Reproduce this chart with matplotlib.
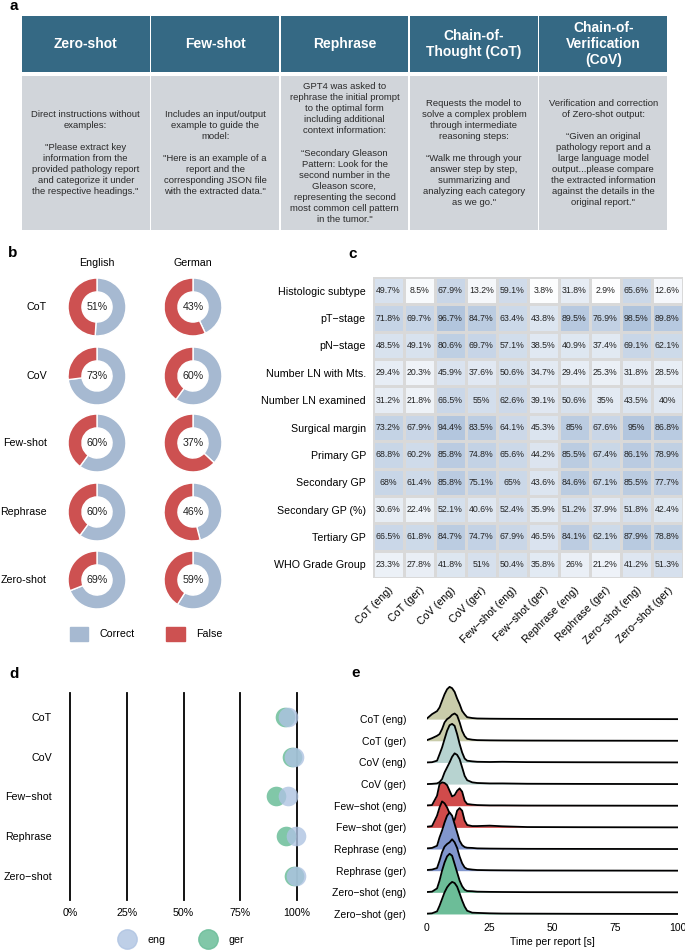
import matplotlib
matplotlib.use("Agg")
import matplotlib.pyplot as plt
import numpy as np
from matplotlib.patches import Rectangle, Patch
from matplotlib.lines import Line2D
from matplotlib.colors import LinearSegmentedColormap

plt.rcParams['font.family'] = ['Liberation Sans', 'DejaVu Sans']

# ---------------- data ----------------
# panel a
prompt_names = ['Zero-shot', 'Few-shot', 'Rephrase', 'Chain-of-\nThought (CoT)',
                'Chain-of-\nVerification\n(CoV)']
prompt_texts = [
    'Direct instructions without\nexamples:\n\n"Please extract key\ninformation from the\n'
    'provided pathology report\nand categorize it under\nthe respective headings."',
    'Includes an input/output\nexample to guide the\nmodel:\n\n"Here is an example of a\n'
    'report and the\ncorresponding JSON file\nwith the extracted data."',
    'GPT4 was asked to\nrephrase the initial prompt\nto the optimal form\nincluding additional\n'
    'context information:\n\n\u201cSecondary Gleason\nPattern: Look for the\nsecond number in the\n'
    'Gleason score,\nrepresenting the second\nmost common cell pattern\nin the tumor."',
    'Requests the model to\nsolve a complex problem\nthrough intermediate\nreasoning steps:\n\n'
    '\u201cWalk me through your\nanswer step by step,\nsummarizing and\nanalyzing each category\nas we go."',
    'Verification and correction\nof Zero-shot output:\n\n\u201cGiven an original\n'
    'pathology report and a\nlarge language model\noutput...please compare\n'
    'the extracted information\nagainst the details in the\noriginal report."',
]

# panel b
strategies = ['CoT', 'CoV', 'Few-shot', 'Rephrase', 'Zero-shot']
correct_eng = [51, 73, 60, 60, 69]
correct_ger = [43, 60, 37, 46, 59]

# panel c
hm_rows = ['Histologic subtype', 'pT\u2212stage', 'pN\u2212stage', 'Number LN with Mts.',
           'Number LN examined', 'Surgical margin', 'Primary GP', 'Secondary GP',
           'Secondary GP (%)', 'Tertiary GP', 'WHO Grade Group']
hm_cols = ['CoT (eng)', 'CoT (ger)', 'CoV (eng)', 'CoV (ger)', 'Few\u2212shot (eng)',
           'Few\u2212shot (ger)', 'Rephrase (eng)', 'Rephrase (ger)', 'Zero\u2212shot (eng)',
           'Zero\u2212shot (ger)']
hm_vals = [
    [49.7, 8.5, 67.9, 13.2, 59.1, 3.8, 31.8, 2.9, 65.6, 12.6],
    [71.8, 69.7, 96.7, 84.7, 63.4, 43.8, 89.5, 76.9, 98.5, 89.8],
    [48.5, 49.1, 80.6, 69.7, 57.1, 38.5, 40.9, 37.4, 69.1, 62.1],
    [29.4, 20.3, 45.9, 37.6, 50.6, 34.7, 29.4, 25.3, 31.8, 28.5],
    [31.2, 21.8, 66.5, 55, 62.6, 39.1, 50.6, 35, 43.5, 40],
    [73.2, 67.9, 94.4, 83.5, 64.1, 45.3, 85, 67.6, 95, 86.8],
    [68.8, 60.2, 85.8, 74.8, 65.6, 44.2, 85.5, 67.4, 86.1, 78.9],
    [68, 61.4, 85.8, 75.1, 65, 43.6, 84.6, 67.1, 85.5, 77.7],
    [30.6, 22.4, 52.1, 40.6, 52.4, 35.9, 51.2, 37.9, 51.8, 42.4],
    [66.5, 61.8, 84.7, 74.7, 67.9, 46.5, 84.1, 62.1, 87.9, 78.8],
    [23.3, 27.8, 41.8, 51, 50.4, 35.8, 26, 21.2, 41.2, 51.3],
]

# panel d
d_labels = ['CoT', 'CoV', 'Few\u2212shot', 'Rephrase', 'Zero\u2212shot']
d_eng = [96.2, 98.5, 96.2, 99.7, 99.7]
d_ger = [94.6, 97.7, 90.9, 95.3, 98.8]

e_labels = ['CoT (eng)', 'CoT (ger)', 'CoV (eng)', 'CoV (ger)', 'Few\u2212shot (eng)',
            'Few\u2212shot (ger)', 'Rephrase (eng)', 'Rephrase (ger)', 'Zero\u2212shot (eng)',
            'Zero\u2212shot (ger)']
t_grid = [0, 2, 4, 5, 6, 7, 8, 9, 10, 11, 12, 13, 14, 15, 16, 18, 20, 25, 30, 40, 60, 100]
dens_cot_eng = [0.03, 0.23, 0.37, 0.54, 0.85, 1.15, 1.38, 1.49, 1.43, 1.26, 0.95, 0.69, 0.38, 0.22, 0.09, 0.05, 0.03, 0.02, 0.015, 0.01, 0.005, 0]
dens_cot_ger = [0.03, 0.12, 0.23, 0.31, 0.54, 0.85, 1.0, 1.08, 1.2, 1.26, 1.17, 0.85, 0.46, 0.22, 0.09, 0.05, 0.03, 0.02, 0.015, 0.01, 0.005, 0]
dens_cov_eng = [0, 0.01, 0.08, 0.38, 0.69, 1.08, 1.46, 1.72, 1.78, 1.69, 1.31, 0.85, 0.46, 0.18, 0.08, 0.05, 0.03, 0.02, 0.03, 0.015, 0.008, 0]
dens_cov_ger = [0, 0.01, 0.03, 0.09, 0.23, 0.54, 0.77, 1.0, 1.26, 1.42, 1.35, 1.15, 0.77, 0.38, 0.18, 0.08, 0.05, 0.03, 0.03, 0.015, 0.008, 0]
dens_few_eng = [0.015, 0.03, 0.46, 1.0, 1.08, 1.05, 0.95, 0.69, 0.43, 0.49, 0.69, 0.8, 0.65, 0.23, 0.08, 0.05, 0.03, 0.015, 0.015, 0.008, 0.005, 0]
dens_few_ger = [0.03, 0.06, 0.54, 0.92, 1.2, 1.11, 0.92, 0.65, 0.38, 0.34, 0.77, 0.89, 0.77, 0.31, 0.11, 0.06, 0.06, 0.08, 0.05, 0.015, 0.008, 0]
dens_reph_eng = [0.03, 0.05, 0.15, 0.54, 0.85, 1.23, 1.54, 1.69, 1.54, 1.15, 0.77, 0.38, 0.18, 0.09, 0.06, 0.05, 0.03, 0.02, 0.015, 0.008, 0.005, 0]
dens_reph_ger = [0.03, 0.05, 0.12, 0.46, 0.85, 1.11, 1.23, 1.31, 1.45, 1.31, 1.05, 0.65, 0.34, 0.15, 0.08, 0.05, 0.03, 0.02, 0.015, 0.008, 0.005, 0]
dens_zero_eng = [0.015, 0.03, 0.18, 0.54, 1.0, 1.38, 1.66, 1.78, 1.69, 1.31, 0.92, 0.54, 0.28, 0.12, 0.06, 0.05, 0.03, 0.02, 0.015, 0.008, 0.005, 0]
dens_zero_ger = [0.015, 0.03, 0.12, 0.38, 0.69, 1.0, 1.23, 1.38, 1.48, 1.43, 1.26, 0.95, 0.62, 0.34, 0.15, 0.06, 0.05, 0.03, 0.02, 0.015, 0.008, 0]
e_dens = [dens_cot_eng, dens_cot_ger, dens_cov_eng, dens_cov_ger, dens_few_eng,
          dens_few_ger, dens_reph_eng, dens_reph_ger, dens_zero_eng, dens_zero_ger]

# ---------------- figure ----------------
W, H = 685, 952
fig = plt.figure(figsize=(W / 100, H / 100), dpi=100)


def box(x0, y0, x1, y1):
    # axes from pixel box (top-left origin)
    return fig.add_axes([x0 / W, 1 - y1 / H, (x1 - x0) / W, (y1 - y0) / H])


def ftext(x, y, s, **kw):
    return fig.text(x / W, 1 - y / H, s, **kw)


for lab, (x, y) in zip('abcde', [(9, 10), (8, 257), (348, 258), (9, 678), (351, 677)]):
    ftext(x, y, lab, fontsize=11, fontweight='bold', va='baseline', ha='left')

# ---- a: table ----
ax = box(21, 16, 668, 230)
ax.set_xlim(21, 668)
ax.set_ylim(230, 16)
ax.axis('off')
cw = (668 - 21) / 5
for i in range(5):
    x0 = 21 + i * cw
    ax.add_patch(Rectangle((x0 + 0.8, 16), cw - 1.6, 56, color='#356984', lw=0))
    ax.add_patch(Rectangle((x0 + 0.8, 76), cw - 1.6, 154, color='#d1d5da', lw=0))
    ax.text(x0 + cw / 2, 44, prompt_names[i], color='white', fontsize=10,
            fontweight='bold', ha='center', va='center', linespacing=1.2)
    ax.text(x0 + cw / 2, 153, prompt_texts[i], color='#2a2a2a', fontsize=6.8,
            ha='center', va='center', linespacing=1.3)

# ---- b: donuts ----
col_blue = '#a6b9d1'
col_red = '#cd5151'
fs_b = 7.7
ftext(97, 263, 'English', fontsize=fs_b, ha='center', va='center')
ftext(193, 263, 'German', fontsize=fs_b, ha='center', va='center')
row_y = [307, 376, 443, 512, 580]
for k, name in enumerate(strategies):
    cy = row_y[k]
    ftext(47, cy, name, fontsize=fs_b, ha='right', va='center')
    for cx, val in [(97, correct_eng[k]), (193, correct_ger[k])]:
        a = box(cx - 31, cy - 31, cx + 31, cy + 31)
        a.pie([val, 100 - val], colors=[col_blue, col_red], startangle=90,
              counterclock=False, radius=1,
              wedgeprops=dict(width=0.48, edgecolor='white', linewidth=1))
        a.set_xlim(-1.07, 1.07)
        a.set_ylim(-1.07, 1.07)
        a.text(0, 0, f'{val}%', ha='center', va='center', fontsize=fs_b, color='#222222')
fig.legend(handles=[Patch(color=col_blue), Patch(color=col_red)], labels=['Correct', 'False'],
           ncol=2, loc='center', bbox_to_anchor=(146 / W, 1 - 634 / H), frameon=False,
           fontsize=fs_b, handlelength=1.75, handleheight=1.75, handletextpad=1.0,
           columnspacing=3.0)

# ---- c: heatmap ----
ax = box(372.7, 277, 682.7, 578)
vals = np.array(hm_vals)
cmap = LinearSegmentedColormap.from_list('bl', ['#ffffff', '#afc3dc'])
ax.pcolormesh(np.arange(len(hm_cols) + 1), np.arange(len(hm_rows) + 1), vals, cmap=cmap,
              vmin=0, vmax=100, edgecolors='#d9d9d9', linewidth=0.8)
ax.set_xlim(0, len(hm_cols))
ax.set_ylim(len(hm_rows), 0)
for r in range(len(hm_rows)):
    for c in range(len(hm_cols)):
        ax.text(c + 0.5, r + 0.5, f'{vals[r, c]:g}%', ha='center', va='center',
                fontsize=6.3, color='#222222')
for s in ax.spines.values():
    s.set_visible(False)
ax.set_yticks(np.arange(len(hm_rows)) + 0.5)
ax.set_yticklabels(hm_rows, fontsize=7.7)
ax.set_xticks(np.arange(len(hm_cols)) + 0.5)
ax.set_xticklabels(hm_cols, fontsize=7.7, rotation=45, ha='right', va='top',
                   rotation_mode='anchor')
ax.tick_params(length=0, pad=5)

# ---- d: dots ----
fs_d = 7.7
ax = box(70, 693, 297, 900)
ax.set_xlim(0, 100)
ax.set_ylim(len(d_labels) - 0.4, -0.6)
for v in [0, 25, 50, 75, 100]:
    ax.axvline(v, color='black', lw=1.3, clip_on=False, zorder=1)
col_eng = '#aec3e2'
col_ger = '#6bbd99'
yy = np.arange(len(d_labels))
ax.scatter(d_ger, yy, s=200, color=col_ger, alpha=0.85, lw=0, zorder=3, clip_on=False)
ax.scatter(d_eng, yy, s=200, color=col_eng, alpha=0.8, lw=0, zorder=4, clip_on=False)
for s in ax.spines.values():
    s.set_visible(False)
ax.set_yticks(yy)
ax.set_yticklabels(d_labels, fontsize=fs_d)
ax.set_xticks([0, 25, 50, 75, 100])
ax.set_xticklabels(['0%', '25%', '50%', '75%', '100%'], fontsize=fs_d)
ax.tick_params(axis='y', length=0, pad=13)
ax.tick_params(axis='x', length=0, pad=6)
fig.legend(handles=[Line2D([], [], marker='o', ls='', ms=14, color=col_eng, alpha=0.8),
                    Line2D([], [], marker='o', ls='', ms=14, color=col_ger, alpha=0.85)],
           labels=['eng', 'ger'], ncol=2, loc='center', bbox_to_anchor=(180 / W, 1 - 940 / H),
           frameon=False, fontsize=fs_d, handletextpad=0.9, columnspacing=3.0)

# ---- e: ridges ----
fs_e = 7.5
ax = box(427, 678, 678, 917)
ax.set_xlim(0, 100)
ax.set_ylim(-0.14, 10.9)
ridge_cols = ['#c9ccaa', '#c9ccaa', '#b7d3d0', '#b7d3d0', '#d14b4b', '#d14b4b',
              '#8196cd', '#8196cd', '#6cbd98', '#6cbd98']
n = len(e_labels)
for i in range(n):
    base = n - 1 - i
    top = base + np.array(e_dens[i])
    ax.fill_between(t_grid, base, top, color=ridge_cols[i], lw=0, zorder=2 * i + 1)
    ax.plot(t_grid, top, color='black', lw=1.3, zorder=2 * i + 2,
            solid_joinstyle='round')
for s in ax.spines.values():
    s.set_visible(False)
ax.set_yticks([n - 1 - i for i in range(n)])
ax.set_yticklabels(e_labels, fontsize=fs_e)
ax.set_xticks([0, 25, 50, 75, 100])
ax.set_xticklabels(['0', '25', '50', '75', '100'], fontsize=fs_e)
ax.tick_params(axis='y', length=0, pad=15)
ax.tick_params(axis='x', length=0, pad=4)
ax.set_xlabel('Time per report [s]', fontsize=fs_e, labelpad=3)

fig.savefig('out.png', dpi=100)
